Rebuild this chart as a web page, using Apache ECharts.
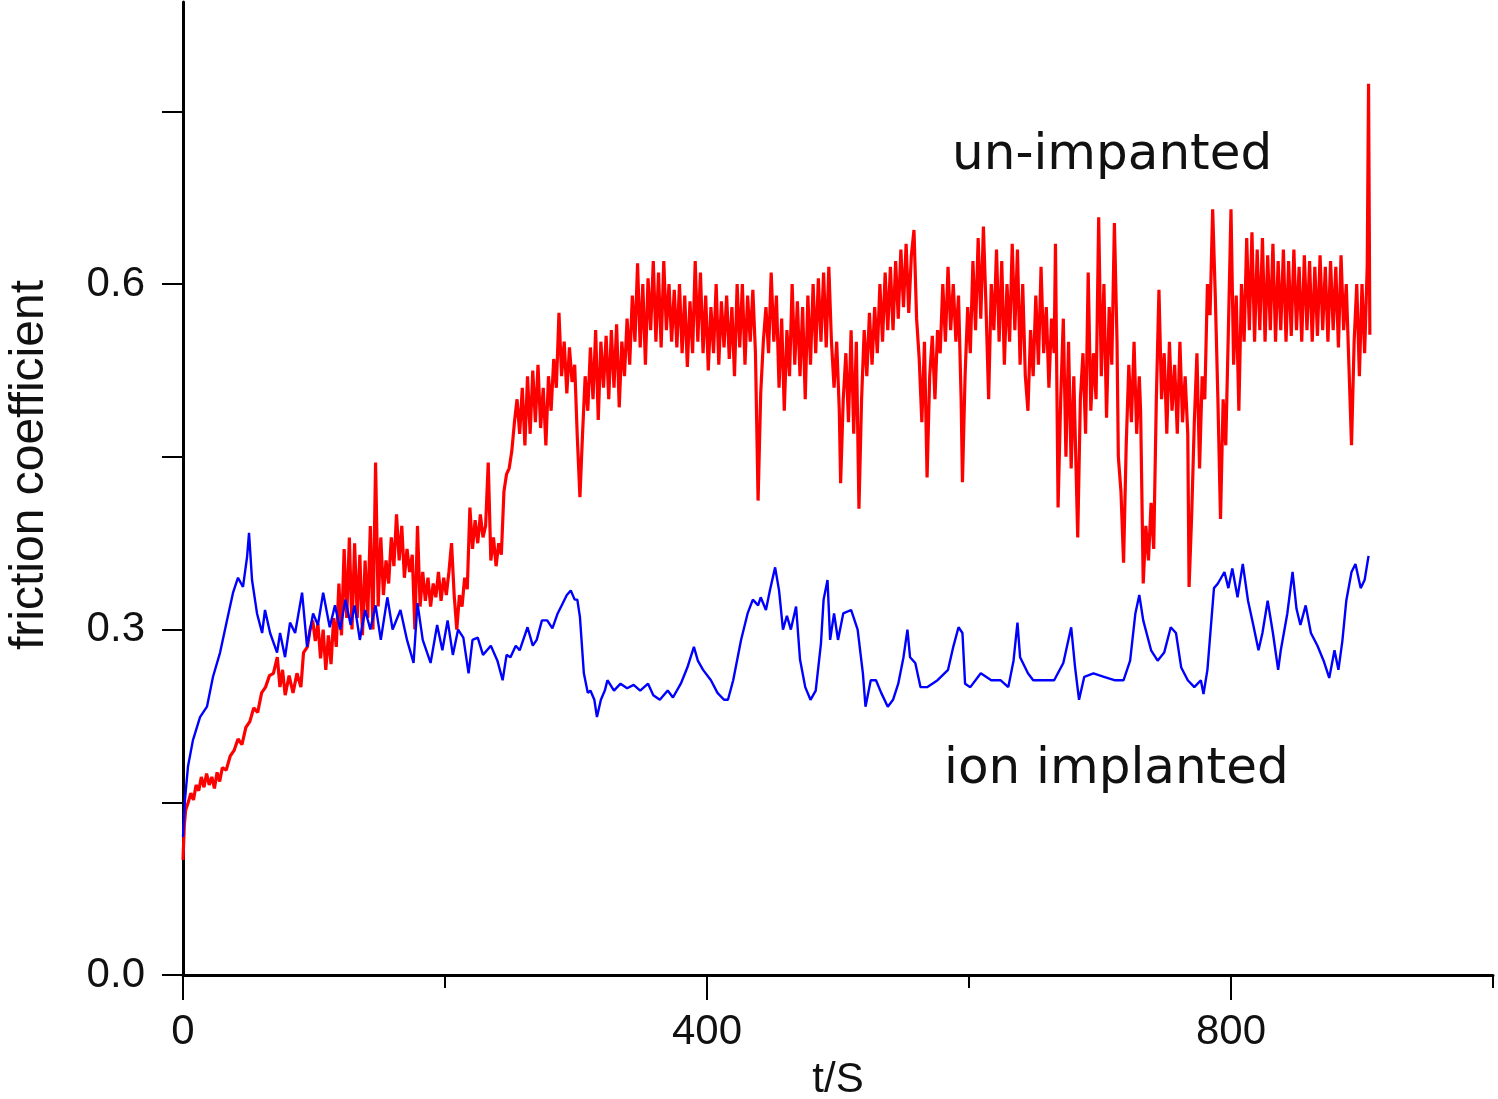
<!DOCTYPE html>
<html lang="en">
<head>
<meta charset="utf-8">
<title>friction coefficient vs time</title>
<script src="https://cdn.jsdelivr.net/npm/echarts@6/dist/echarts.min.js"></script>
<style>
  html, body { margin: 0; padding: 0; background: #fff; }
  #chart { width: 1498px; height: 1099px; }
</style>
</head>
<body>
<div id="chart"></div>
<script>
// [t (s), friction coefficient]
const unImplanted = [
  [0,0.10],[1,0.13],[2,0.143],[4,0.15],[6,0.158],[8,0.152],[10,0.165],[12,0.16],[14,0.172],[16,0.163],
  [18,0.175],[20,0.165],[22,0.172],[24,0.162],[26,0.176],[28,0.168],[30,0.18],[33,0.178],[36,0.19],[39,0.195],
  [42,0.205],[45,0.2],[48,0.215],[51,0.22],[54,0.232],[57,0.228],[60,0.245],[63,0.25],[66,0.26],[69,0.262],
  [72,0.276],[74,0.25],[76,0.265],[78,0.243],[81,0.26],[84,0.245],[87,0.262],[90,0.25],[92,0.28],[95,0.285],
  [97,0.3],[99,0.308],[101,0.29],[103,0.305],[105,0.275],[107,0.3],[109,0.265],[111,0.295],[113,0.27],[115,0.31],
  [117,0.285],[119,0.34],[121,0.295],[123,0.37],[125,0.31],[127,0.38],[129,0.3],[131,0.375],[133,0.31],[135,0.365],
  [137,0.295],[139,0.36],[141,0.31],[143,0.39],[145,0.3],[147,0.445],[149,0.32],[151,0.38],[153,0.33],[155,0.36],
  [157,0.34],[159,0.38],[161,0.355],[163,0.4],[165,0.36],[167,0.39],[169,0.345],[171,0.37],[173,0.35],[175,0.365],
  [177,0.3],[179,0.39],[181,0.32],[183,0.35],[185,0.325],[187,0.345],[189,0.32],[191,0.34],[193,0.328],[195,0.35],
  [197,0.325],[199,0.345],[201,0.33],[203,0.35],[205,0.375],[207,0.33],[209,0.3],[211,0.33],[213,0.32],[215,0.345],
  [217,0.335],[219,0.406],[221,0.37],[223,0.395],[225,0.375],[227,0.4],[229,0.38],[231,0.39],[233,0.445],[235,0.36],
  [237,0.38],[239,0.355],[241,0.375],[243,0.365],[245,0.42],[247,0.435],[249,0.44],[251,0.455],[253,0.48],[255,0.5],
  [257,0.47],[259,0.51],[261,0.46],[263,0.52],[265,0.47],[267,0.525],[269,0.48],[271,0.53],[273,0.475],[275,0.51],
  [277,0.46],[279,0.52],[281,0.49],[283,0.535],[285,0.51],[287,0.575],[289,0.52],[291,0.55],[293,0.505],[295,0.545],
  [297,0.515],[299,0.53],[301,0.467],[303,0.415],[305,0.47],[307,0.52],[309,0.49],[311,0.545],[313,0.5],[315,0.56],
  [317,0.482],[319,0.55],[321,0.51],[323,0.555],[325,0.5],[327,0.56],[329,0.51],[331,0.565],[333,0.493],[335,0.55],
  [337,0.52],[339,0.57],[341,0.53],[343,0.59],[345,0.55],[347,0.618],[349,0.545],[351,0.6],[353,0.53],[355,0.605],
  [357,0.56],[359,0.62],[361,0.55],[363,0.61],[365,0.545],[367,0.62],[369,0.56],[371,0.6],[373,0.55],[375,0.595],
  [377,0.545],[379,0.6],[381,0.54],[383,0.59],[385,0.528],[387,0.585],[389,0.54],[391,0.62],[393,0.55],[395,0.61],
  [397,0.54],[399,0.59],[401,0.525],[403,0.58],[405,0.54],[407,0.6],[409,0.53],[411,0.585],[413,0.545],[415,0.59],
  [417,0.535],[419,0.58],[421,0.52],[423,0.6],[425,0.545],[427,0.6],[429,0.53],[431,0.59],[433,0.55],[435,0.595],
  [437,0.54],[439,0.412],[441,0.505],[443,0.55],[445,0.58],[447,0.54],[449,0.61],[451,0.55],[453,0.59],[455,0.51],
  [457,0.57],[459,0.49],[461,0.56],[463,0.52],[465,0.6],[467,0.53],[469,0.585],[471,0.52],[473,0.58],[475,0.5],
  [477,0.59],[479,0.53],[481,0.6],[483,0.54],[485,0.605],[487,0.55],[489,0.61],[491,0.545],[493,0.615],[495,0.55],
  [497,0.51],[499,0.55],[501,0.49],[502,0.427],[504,0.5],[506,0.54],[508,0.48],[510,0.56],[512,0.47],[514,0.55],
  [516,0.405],[518,0.5],[520,0.56],[522,0.52],[524,0.575],[526,0.53],[528,0.58],[530,0.54],[532,0.6],[534,0.55],
  [536,0.61],[538,0.56],[540,0.615],[542,0.56],[544,0.62],[546,0.57],[548,0.63],[550,0.58],[552,0.635],[554,0.575],
  [556,0.625],[558,0.647],[560,0.57],[562,0.535],[564,0.48],[566,0.55],[568,0.432],[570,0.52],[572,0.555],[574,0.5],
  [576,0.56],[578,0.54],[580,0.6],[582,0.55],[584,0.615],[586,0.56],[588,0.6],[590,0.55],[592,0.59],[594,0.5],
  [595,0.428],[597,0.52],[599,0.58],[601,0.54],[603,0.62],[605,0.56],[607,0.64],[609,0.57],[611,0.65],[613,0.58],
  [615,0.5],[617,0.6],[619,0.56],[621,0.63],[623,0.55],[625,0.62],[627,0.53],[629,0.6],[631,0.55],[633,0.635],
  [635,0.56],[637,0.63],[639,0.53],[641,0.6],[643,0.52],[645,0.49],[647,0.56],[649,0.52],[651,0.59],[653,0.53],
  [655,0.615],[657,0.54],[659,0.58],[661,0.51],[663,0.57],[665,0.54],[666,0.635],[668,0.406],[670,0.5],[672,0.57],
  [674,0.45],[676,0.55],[678,0.44],[680,0.52],[683,0.38],[685,0.5],[687,0.54],[689,0.47],[691,0.61],[693,0.49],
  [695,0.54],[697,0.5],[699,0.658],[701,0.52],[703,0.6],[705,0.484],[707,0.58],[709,0.53],[711,0.653],[713,0.55],
  [714,0.45],[716,0.42],[718,0.358],[720,0.46],[722,0.53],[724,0.48],[726,0.55],[728,0.47],[730,0.52],[731,0.49],
  [733,0.34],[735,0.39],[737,0.36],[739,0.41],[741,0.37],[743,0.5],[745,0.595],[747,0.5],[749,0.54],[751,0.47],
  [753,0.55],[755,0.49],[757,0.53],[759,0.47],[761,0.55],[763,0.48],[765,0.52],[767,0.47],[768,0.337],[770,0.4],
  [772,0.48],[774,0.54],[776,0.44],[778,0.52],[780,0.5],[782,0.6],[784,0.573],[786,0.665],[788,0.59],[790,0.5],
  [792,0.396],[794,0.5],[796,0.46],[798,0.56],[800,0.665],[802,0.53],[804,0.59],[806,0.49],[808,0.6],[810,0.55],
  [812,0.64],[814,0.56],[816,0.645],[818,0.55],[820,0.63],[822,0.56],[824,0.64],[826,0.55],[828,0.625],[830,0.56],
  [832,0.635],[834,0.55],[836,0.62],[838,0.56],[840,0.63],[842,0.55],[844,0.62],[846,0.555],[848,0.63],[850,0.56],
  [852,0.615],[854,0.55],[856,0.625],[858,0.56],[860,0.62],[862,0.55],[864,0.615],[866,0.555],[868,0.625],[870,0.56],
  [872,0.615],[874,0.55],[876,0.62],[878,0.56],[880,0.615],[882,0.545],[884,0.625],[886,0.56],[888,0.6],[890,0.53],
  [892,0.46],[894,0.55],[896,0.6],[898,0.52],[900,0.6],[902,0.54],[904,0.616],[905,0.774],[906,0.556]
];

const ionImplanted = [
  [0,0.12],[1.5,0.152],[3.8,0.181],[7.6,0.204],[13,0.224],[18.3,0.233],[22.9,0.259],[28.3,0.28],[33.6,0.308],[38.2,0.332],
  [42,0.345],[45.8,0.337],[48.9,0.363],[50.4,0.384],[52.7,0.343],[56.5,0.314],[60.4,0.297],[62.6,0.317],[66.5,0.297],[71.8,0.28],
  [74.1,0.297],[77.9,0.276],[81.7,0.306],[85.6,0.297],[90.9,0.332],[94.7,0.285],[99.3,0.314],[103,0.304],[107,0.332],[112,0.302],
  [116,0.321],[120,0.3],[124,0.326],[128,0.304],[131,0.321],[135,0.291],[139,0.317],[143,0.3],[147,0.321],[151,0.291],
  [156,0.328],[160,0.3],[166,0.317],[171,0.291],[176,0.271],[179,0.323],[183,0.291],[189,0.271],[194,0.304],[198,0.282],
  [202,0.308],[206,0.278],[210,0.3],[214,0.293],[218,0.262],[221,0.291],[225,0.293],[229,0.278],[235,0.286],[240,0.273],
  [244,0.256],[247,0.278],[250,0.276],[254,0.286],[257,0.282],[263,0.302],[267,0.286],[270,0.291],[274,0.308],[278,0.308],
  [282,0.301],[286,0.314],[290,0.323],[293,0.33],[296,0.334],[299,0.326],[301,0.326],[303,0.311],[306,0.262],[309,0.245],
  [311,0.247],[314,0.239],[316,0.224],[319,0.239],[322,0.247],[324,0.256],[329,0.247],[334,0.253],[339,0.249],[344,0.252],
  [349,0.247],[355,0.253],[359,0.243],[364,0.239],[370,0.247],[374,0.241],[380,0.253],[385,0.267],[390,0.285],[393,0.273],
  [397,0.265],[403,0.256],[408,0.245],[413,0.239],[416,0.239],[420,0.256],[426,0.291],[431,0.314],[435,0.326],[439,0.321],
  [441,0.328],[445,0.317],[448,0.334],[452,0.354],[455,0.334],[458,0.3],[461,0.312],[464,0.3],[468,0.32],[471,0.274],
  [475,0.25],[479,0.239],[483,0.247],[487,0.288],[489,0.326],[492,0.343],[494,0.291],[497,0.314],[500,0.291],[504,0.314],
  [510,0.317],[515,0.3],[519,0.262],[521,0.233],[525,0.256],[529,0.256],[533,0.245],[538,0.233],[542,0.239],[546,0.253],
  [550,0.276],[553,0.3],[555,0.276],[559,0.271],[563,0.25],[568,0.25],[576,0.256],[584,0.265],[588,0.285],[592,0.302],
  [595,0.297],[597,0.253],[601,0.25],[609,0.262],[617,0.256],[624,0.256],[630,0.25],[634,0.273],[637,0.306],[639,0.276],
  [645,0.262],[649,0.256],[657,0.256],[665,0.256],[672,0.271],[678,0.302],[681,0.267],[684,0.239],[688,0.259],[695,0.262],
  [703,0.259],[711,0.256],[718,0.256],[723,0.273],[727,0.314],[730,0.33],[733,0.308],[739,0.282],[744,0.273],[749,0.28],
  [754,0.302],[758,0.297],[762,0.267],[767,0.256],[772,0.25],[777,0.256],[779,0.244],[782,0.265],[787,0.336],[790,0.34],
  [795,0.35],[798,0.336],[801,0.353],[805,0.328],[809,0.357],[813,0.325],[817,0.304],[821,0.282],[824,0.297],[828,0.325],
  [832,0.297],[836,0.265],[838,0.282],[843,0.314],[847,0.35],[850,0.318],[853,0.304],[857,0.321],[861,0.297],[866,0.286],
  [871,0.272],[875,0.258],[879,0.282],[882,0.265],[885,0.29],[888,0.325],[892,0.35],[895,0.357],[899,0.336],[902,0.343],
  [905,0.364]
];

const xMajorTicks = [0, 400, 800];
const xMinorTicks = [200, 600, 1000];
const yTicks = [0, 0.15, 0.3, 0.45, 0.6, 0.75];
const yLabels = [0, 0.3, 0.6];

const chart = echarts.init(document.getElementById('chart'));
chart.setOption({
  animation: false,
  backgroundColor: '#ffffff',
  grid: { left: 183, right: 5, top: 2, bottom: 124, outerBoundsMode: 'none' },
  xAxis: [
    {
      type: 'value', min: 0, max: 1000,
      name: 't/S', nameLocation: 'middle', nameGap: 84,
      nameTextStyle: { fontFamily: 'Liberation Sans', fontSize: 42, color: '#111' },
      axisLine: { lineStyle: { color: '#000', width: 3 } },
      axisTick: { customValues: xMajorTicks, length: 25, lineStyle: { color: '#000', width: 2 } },
      axisLabel: {
        customValues: xMajorTicks, margin: 36,
        fontFamily: 'Liberation Sans', fontSize: 42, color: '#111'
      },
      splitLine: { show: false }
    },
    {
      type: 'value', min: 0, max: 1000, position: 'bottom',
      axisLine: { show: false },
      axisTick: { customValues: xMinorTicks, length: 13, lineStyle: { color: '#000', width: 2 } },
      axisLabel: { show: false },
      splitLine: { show: false }
    }
  ],
  yAxis: {
    type: 'value', min: 0, max: 0.845,
    axisLine: { lineStyle: { color: '#000', width: 3 } },
    axisTick: { customValues: yTicks, length: 21, lineStyle: { color: '#000', width: 2 } },
    axisLabel: {
      customValues: yLabels, margin: 38,
      fontFamily: 'Liberation Sans', fontSize: 42, color: '#111',
      formatter: v => v.toFixed(1)
    },
    splitLine: { show: false }
  },
  graphic: [
    {
      type: 'text', x: 30, y: 465, rotation: Math.PI / 2,
      style: {
        text: 'friction coefficient', fill: '#111',
        font: '48px "Liberation Sans"', align: 'center', verticalAlign: 'middle'
      }
    },
    {
      type: 'text', x: 952, y: 156,
      style: {
        text: 'un-impanted', fill: '#111',
        font: '50px "DejaVu Sans"', align: 'left', verticalAlign: 'middle'
      }
    },
    {
      type: 'text', x: 944, y: 770,
      style: {
        text: 'ion implanted', fill: '#111',
        font: '50px "DejaVu Sans"', align: 'left', verticalAlign: 'middle'
      }
    }
  ],
  series: [
    {
      name: 'un-impanted', type: 'line', xAxisIndex: 0,
      data: unImplanted, showSymbol: false,
      lineStyle: { color: '#ff0000', width: 3.2 }
    },
    {
      name: 'ion implanted', type: 'line', xAxisIndex: 0,
      data: ionImplanted, showSymbol: false,
      lineStyle: { color: '#0000ff', width: 2.4 }
    }
  ]
});
</script>
</body>
</html>
